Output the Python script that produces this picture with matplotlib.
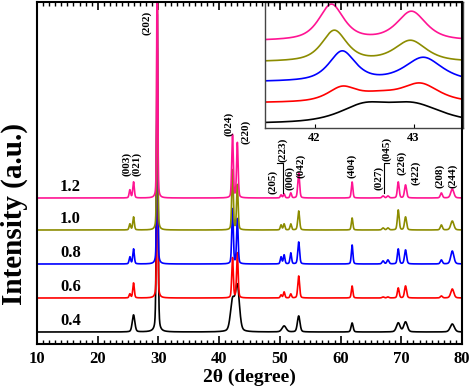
import numpy as np
import matplotlib
matplotlib.use("Agg")
import matplotlib.pyplot as plt

plt.rcParams['font.family'] = ['Liberation Serif', 'DejaVu Serif']
plt.rcParams['font.weight'] = 'bold'

# ---------------- data ----------------
series_labels = ["0.4", "0.6", "0.8", "1.0", "1.2"]
series_colors = ["#000000", "#ff0000", "#0000ff", "#8c8c00", "#ff1493"]
offsets = [12, 46, 80, 114, 146]

peak_pos = [25.3, 25.9, 29.8, 42.2, 43.0, 50.2, 50.7, 51.8, 53.1, 61.9, 67.0, 67.8, 69.5, 70.7, 76.6, 78.4]
width_common = [0.3, 0.3, 0.2, 0.3, 0.3, 0.3, 0.3, 0.3, 0.35, 0.3, 0.4, 0.4, 0.35, 0.4, 0.4, 0.6]
width_04 = [0.5, 0.5, 0.3, 0.8, 0.8, 0.5, 0.8, 0.5, 0.5, 0.4, 0.5, 0.5, 0.7, 0.7, 0.5, 0.8]

h_04 = [0, 17, 250, 30, 45, 0, 6, 0, 16, 9, 0, 0, 9, 10, 0, 8]
h_06 = [4, 15, 250, 40, 45, 3, 6, 4, 22, 12, 1, 1, 10, 12, 2, 9]
h_08 = [7, 15, 250, 55, 45, 7, 9, 11, 22, 19, 3, 4, 15, 14, 4, 13]
h_10 = [6, 13, 250, 60, 45, 5, 6, 6, 19, 12, 2, 2, 20, 13, 5, 9]
h_12 = [8, 16, 250, 63, 55, 3, 4, 5, 25, 16, 2, 2, 16, 13, 5, 9]

# inset (41.5 - 43.5 deg)
ins_offsets = [4, 25, 46, 66, 87]
ins_pos_04 = [42.5, 43.0]
ins_h_04 = [16, 18]
ins_w_04 = [0.6, 0.7]
ins_pos_06 = [42.28, 42.65, 43.07]
ins_h_06 = [14, 7, 18]
ins_w_06 = [0.35, 0.5, 0.45]
ins_pos_08 = [42.28, 43.1]
ins_h_08 = [30, 24]
ins_w_08 = [0.32, 0.45]
ins_pos_10 = [42.2, 42.97]
ins_h_10 = [31, 21]
ins_w_10 = [0.3, 0.38]
ins_pos_12 = [42.17, 42.98]
ins_h_12 = [36, 29]
ins_w_12 = [0.3, 0.35]

hkl_labels = ["(003)", "(021)", "(202)", "(024)", "(220)", "(205)", "(223)", "(006)",
              "(042)", "(404)", "(027)", "(045)", "(226)", "(422)", "(208)", "(244)"]
hkl_x = [24.8, 26.5, 28.1, 41.6, 44.3, 48.9, 50.4, 51.7, 53.5, 61.9, 66.2, 67.6, 70.1, 72.3, 76.4, 78.4]
hkl_y = [180, 180, 321, 220, 212, 162, 194, 166, 178, 178, 166, 195, 181, 171, 168, 168]


def pv(x, pos, hts, wds, eta):
    y = np.zeros_like(x)
    for p, a, w in zip(pos, hts, wds):
        u = (x - p) / w
        y += a * (eta / (1 + 4 * u ** 2) + (1 - eta) * np.exp(-4 * np.log(2) * u ** 2))
    return y


W, H = 474, 391
fig = plt.figure(figsize=(W / 100, H / 100), dpi=100)

# main axes
ax = fig.add_axes([37 / W, 1 - 344 / H, 425 / W, 342 / H])
x = np.linspace(10, 80, 7001)
all_h = [h_04, h_06, h_08, h_10, h_12]
for i, (hh, off, col) in enumerate(zip(all_h, offsets, series_colors)):
    wds = width_04 if i == 0 else width_common
    y = off + pv(x, peak_pos, hh, wds, 0.3)
    ax.plot(x, y, color=col, lw=1.2)
    ax.text(15.5, off + 11, series_labels[i], ha='center', va='center', fontsize=12, fontweight='bold')

for lab, lx, ly in zip(hkl_labels, hkl_x, hkl_y):
    ax.text(lx, ly, lab, rotation=90, ha='center', va='center', fontsize=8, fontweight='bold')

# leader lines
ax.plot([49.6, 50.45, 50.45], [181, 181, 151], color='k', lw=0.8)
ax.plot([68.0, 67.15, 67.15], [181, 181, 151], color='k', lw=0.8)

ax.set_xlim(10, 80)
ax.set_ylim(0, 342)
ax.set_xticks(np.arange(10, 81, 10))
ax.set_xticks(np.arange(10, 81, 1), minor=True)
ax.set_yticks([])
ax.tick_params(axis='x', which='both', direction='in', top=True, bottom=True)
ax.tick_params(axis='x', which='major', length=6, width=1.2, labelsize=12, pad=5)
ax.tick_params(axis='x', which='minor', length=3, width=1.0)
for lbl in ax.get_xticklabels():
    lbl.set_fontweight('bold')
for s in ax.spines.values():
    s.set_linewidth(1.5)
ax.set_xlabel("2θ (degree)", fontsize=14, fontweight='bold', labelpad=1)
fig.text(14 / W, 1 - 214 / H, "Intensity (a.u.)", rotation=90, ha='center', va='center',
         fontsize=21, fontweight='bold')
ax.set_zorder(3)
ax.patch.set_visible(False)

# inset
axi = fig.add_axes([265 / W, 1 - 128 / H, 198 / W, 126 / H])
axi.set_zorder(1)
xi = np.linspace(41.5, 43.5, 801)
ins_p = [ins_pos_04, ins_pos_06, ins_pos_08, ins_pos_10, ins_pos_12]
ins_hh = [ins_h_04, ins_h_06, ins_h_08, ins_h_10, ins_h_12]
ins_ww = [ins_w_04, ins_w_06, ins_w_08, ins_w_10, ins_w_12]
for p, hh, ww, off, col in zip(ins_p, ins_hh, ins_ww, ins_offsets, series_colors):
    axi.plot(xi, off + pv(xi, p, hh, ww, 0.7), color=col, lw=1.2)
axi.set_xlim(41.5, 43.5)
axi.set_ylim(0, 126)
axi.set_xticks([42, 43])
axi.set_yticks([])
axi.tick_params(axis='x', direction='in', length=3, labelsize=9, pad=3)
for lbl in axi.get_xticklabels():
    lbl.set_fontweight('bold')
for s in axi.spines.values():
    s.set_linewidth(1.0)
    s.set_color('#444444')

fig.savefig("out.png", dpi=100)
